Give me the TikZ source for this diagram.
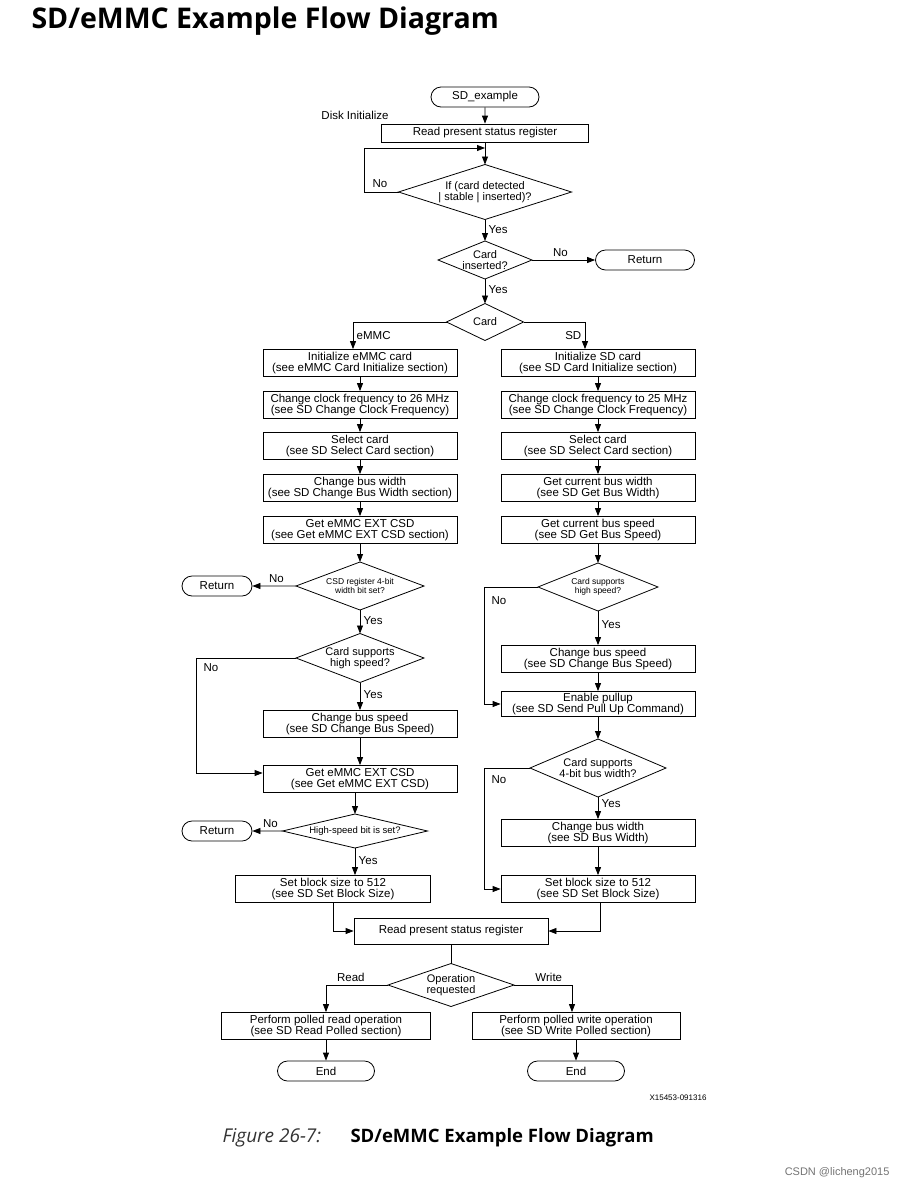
\documentclass[tikz,border=0pt]{standalone}
\usepackage{fontspec}
\setmainfont{Liberation Sans}
\newfontfamily\titlefont{Open Sans}
\usetikzlibrary{shapes.geometric,shapes.misc,arrows.meta}
\newcommand{\mydia}[6][\fontsize{11}{11.5}\selectfont]{%
  \node[font=#1, inner sep=0pt] (#2) at (#3) {#6};
  \path (#2.center) ++(-#4/2,0) coordinate (#2-w) (#2.center) ++(#4/2,0) coordinate (#2-e)
        (#2.center) ++(0,-#5/2) coordinate (#2-n) (#2.center) ++(0,#5/2) coordinate (#2-s);
  \draw[thick] (#2-w) -- (#2-n) -- (#2-e) -- (#2-s) -- cycle;}
\begin{document}
\begin{tikzpicture}[x=1pt,y=-1pt,
  every node/.style={font=\fontsize{11.5}{11.5}\selectfont, align=center},
  box/.style={draw, thick, rectangle, inner sep=0pt, minimum height=#1},
  box/.default=27,
  term/.style={draw, thick, rounded rectangle, minimum width=#1, minimum height=20, inner sep=0pt},
  lab/.style={font=\fontsize{11.5}{12}\selectfont},
  ar/.style={thick, -{Triangle[length=8pt,width=6pt]}},
  ln/.style={thick}]
\useasboundingbox (0,0) rectangle (898,1192);
% title
\node[anchor=base west, font=\titlefont\bfseries\fontsize{28.5}{30}\selectfont] (title) at (28,28) {SD/eMMC Example Flow Diagram};
% top
\node[term=108] (start) at (485,97) {SD\_example};
\node[lab] (disk) at (355,115) {Disk Initialize};
\node[box=18, minimum width=207] (rp1) at (485,133) {Read present status register};
\mydia{d1}{485,192}{173}{55}{If (card detected\\ | stable | inserted)?}
\mydia{d2}{485,260}{94}{38}{Card\\inserted?}
\node[term=99] (ret1) at (645,260) {Return};
\mydia{d3}{485,322}{77}{37}{Card}
\draw[ar] (start) -- (rp1);
\draw[ar] (rp1) -- (d1-n);
\draw[ar] (d1-w) -| (364,148) -- (485,148);
\node[lab] at (380,184) {No};
\draw[ar] (d1-s) -- (d2-n) node[lab, pos=0.45, right] {Yes};
\draw[ar] (d2-e) -- (ret1) node[lab, pos=0.45, above] {No};
\draw[ar] (d2-s) -- (d3-n) node[lab, pos=0.45, right] {Yes};
% left column
\node[box, minimum width=194] (l1) at (360,363) {Initialize eMMC card\\(see eMMC Card Initialize section)};
\node[box, minimum width=194] (l2) at (360,405) {Change clock frequency to 26 MHz\\(see SD Change Clock Frequency)};
\node[box, minimum width=194] (l3) at (360,446) {Select card\\(see SD Select Card section)};
\node[box, minimum width=194] (l4) at (360,488) {Change bus width\\(see SD Change Bus Width section)};
\node[box, minimum width=194] (l5) at (360,530) {Get eMMC EXT CSD\\(see Get eMMC EXT CSD section)};
\mydia[\fontsize{8.5}{9.5}\selectfont]{ld1}{360,586}{128}{48}{CSD register 4-bit\\width bit set?}
\node[term=70] (ret2) at (217,586) {Return};
\mydia{ld2}{360,658}{128}{49}{Card supports\\high speed?}
\node[box, minimum width=194] (l6) at (360,724) {Change bus speed\\(see SD Change Bus Speed)};
\node[box, minimum width=194] (l7) at (360,779) {Get eMMC EXT CSD\\(see Get eMMC EXT CSD)};
\mydia[\fontsize{9.5}{10}\selectfont]{ld3}{355,831}{145}{34}{High-speed bit is set?}
\node[term=70] (ret3) at (217,831) {Return};
\node[box, minimum width=195] (l8) at (333,889) {Set block size to 512\\(see SD Set Block Size)};
\draw[ar] (d3-w) -| (l1.north -| 353,0) node[lab, pos=0.75, right] {eMMC};
\draw[ar] (l1) -- (l2);
\draw[ar] (l2) -- (l3);
\draw[ar] (l3) -- (l4);
\draw[ar] (l4) -- (l5);
\draw[ar] (l5) -- (ld1-n);
\draw[ar] (ld1-w) -- (ret2) node[lab, pos=0.45, above] {No};
\draw[ar] (ld1-s) -- (ld2-n) node[lab, pos=0.45, right] {Yes};
\draw[ar] (ld2-w) -| (196,773) -- (l7.west |- 0,773);
\node[lab] at (211,668) {No};
\draw[ar] (ld2-s) -- (l6) node[lab, pos=0.45, right] {Yes};
\draw[ar] (l6) -- (l7);
\draw[ar] (l7.south -| ld3-n) -- (ld3-n);
\draw[ar] (ld3-w) -- (ret3) node[lab, pos=0.4, above] {No};
\draw[ar] (ld3-s) -- (l8.north -| ld3-s) node[lab, pos=0.45, right] {Yes};
% right column
\node[box, minimum width=194] (r1) at (598,363) {Initialize SD card\\(see SD Card Initialize section)};
\node[box, minimum width=194] (r2) at (598,405) {Change clock frequency to 25 MHz\\(see SD Change Clock Frequency)};
\node[box, minimum width=194] (r3) at (598,446) {Select card\\(see SD Select Card section)};
\node[box, minimum width=194] (r4) at (598,488) {Get current bus width\\(see SD Get Bus Width)};
\node[box, minimum width=194] (r5) at (598,530) {Get current bus speed\\(see SD Get Bus Speed)};
\mydia[\fontsize{8.5}{9.5}\selectfont]{rd1}{598,587}{120}{48}{Card supports\\high speed?}
\node[box, minimum width=194] (r6) at (598,659) {Change bus speed\\(see SD Change Bus Speed)};
\node[box=25, minimum width=194] (r7) at (598,704) {Enable pullup\\(see SD Send Pull Up Command)};
\mydia{rd2}{598,768}{136}{58}{Card supports\\4-bit bus width?}
\node[box, minimum width=194] (r8) at (598,833) {Change bus width\\(see SD Bus Width)};
\node[box, minimum width=194] (r9) at (598,889) {Set block size to 512\\(see SD Set Block Size)};
\draw[ar] (d3-e) -| (r1.north -| 585,0) node[lab, pos=0.75, left] {SD};
\draw[ar] (r1) -- (r2);
\draw[ar] (r2) -- (r3);
\draw[ar] (r3) -- (r4);
\draw[ar] (r4) -- (r5);
\draw[ar] (r5) -- (rd1-n);
\draw[ar] (rd1-w) -| (484,704) -- (r7.west);
\node[lab] at (499,601) {No};
\draw[ar] (rd1-s) -- (r6) node[lab, pos=0.4, right] {Yes};
\draw[ar] (r6) -- (r7);
\draw[ar] (r7) -- (rd2-n);
\draw[ar] (rd2-w) -| (484,889) -- (r9.west);
\node[lab] at (499,780) {No};
\draw[ar] (rd2-s) -- (r8) node[lab, pos=0.3, right] {Yes};
\draw[ar] (r8) -- (r9);
% bottom
\node[box=26, minimum width=194] (rp2) at (451,931) {Read present status register};
\mydia{od}{451,985}{126}{43}{Operation\\requested}
\node[box, minimum width=209] (rd) at (326,1026) {Perform polled read operation\\(see SD Read Polled section)};
\node[box, minimum width=208] (wr) at (576,1026) {Perform polled write operation\\(see SD Write Polled section)};
\node[term=97] (e1) at (326,1071) {End};
\node[term=97] (e2) at (576,1071) {End};
\draw[ar] (l8.south) |- (rp2.west);
\draw[ar] (r9.south -| 600,0) |- (rp2.east);
\draw[ln] (rp2) -- (od-n);
\draw[ar] (od-w) -| (rd.north) node[lab, pos=0.3, above] {Read};
\draw[ar] (od-e) -| (wr.north -| 572,0) node[lab, pos=0.3, above] {Write};
\draw[ar] (rd) -- (e1);
\draw[ar] (wr) -- (e2);
\node[anchor=east, font=\fontsize{8}{9}\selectfont] (code) at (710,1098) {X15453-091316};
\node[anchor=base west, font=\titlefont\itshape\fontsize{19}{21}\selectfont, text=black!80] (figno) at (219,1142) {Figure 26-7:};
\node[anchor=base west, font=\titlefont\bfseries\fontsize{18.5}{21}\selectfont] (cap) at (347,1142) {SD/eMMC Example Flow Diagram};
\node[anchor=east, font=\fontsize{11}{12}\selectfont, text=black!55] (wm) at (893,1173) {CSDN @licheng2015};
\end{tikzpicture}
\end{document}
